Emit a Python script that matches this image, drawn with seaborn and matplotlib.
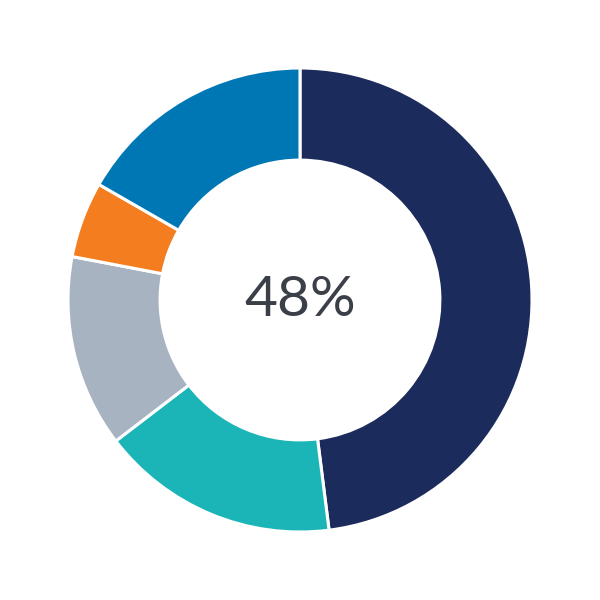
import matplotlib
matplotlib.use("Agg")
import matplotlib.pyplot as plt
import seaborn as sns

sns.set_theme(style="white")
plt.rcParams['font.family'] = ['Lato', 'DejaVu Sans']

categories = ["Navy", "Teal", "Gray", "Orange", "Blue"]
values = [48, 16.6, 13.4, 5.3, 16.7]
colors = ["#1b2b5b", "#1bb5b7", "#a8b3c1", "#f47d20", "#0077b5"]
center_label = "48%"

fig = plt.figure(figsize=(6, 6), dpi=100)
ax = fig.add_axes([0, 0, 1, 1])
ax.pie(values, colors=colors, startangle=90, counterclock=False, radius=1.0,
       wedgeprops=dict(width=0.397, edgecolor="white", linewidth=2.2))
lim = 300 / 232
ax.set_xlim(-lim, lim)
ax.set_ylim(-lim, lim)
ax.set_aspect("equal")
ax.axis("off")
ax.text(0, 0, center_label, ha="center", va="center", fontsize=41,
        fontweight="normal", color="#3a3f48")
fig.savefig("out.png", dpi=100, facecolor="white")
